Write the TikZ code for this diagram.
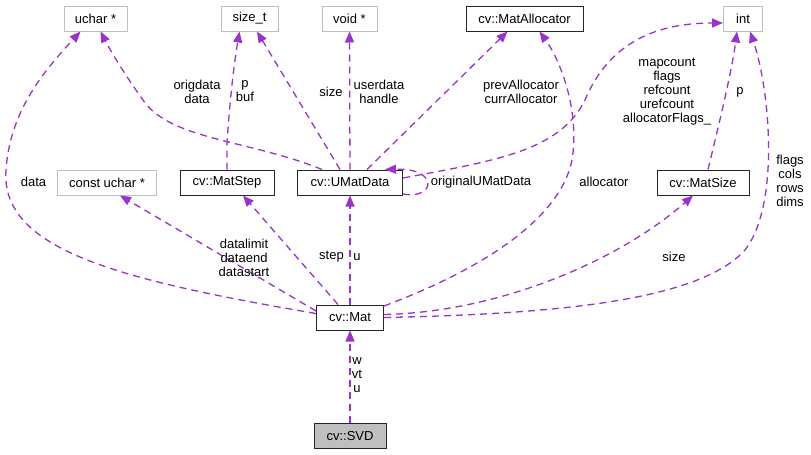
\documentclass[tikz,border=0pt]{standalone}
\usepackage{fontspec}
\setmainfont{Liberation Sans}
\usetikzlibrary{arrows.meta}
\definecolor{edgepurple}{HTML}{9A32CD}
\definecolor{boxgray}{HTML}{BFBFBF}

\begin{document}
\begin{tikzpicture}[x=1pt,y=-1pt,
  font=\fontsize{13}{14}\selectfont,
  cls/.style={draw=black!85,line width=1pt,minimum height=25pt,inner sep=0pt},
  ext/.style={draw=boxgray,line width=1pt,minimum height=25pt,inner sep=0pt},
  cur/.style={cls,fill=boxgray},
  rel/.style={edgepurple,line width=1.3pt,dash pattern=on 7pt off 5pt,-{Triangle[length=11pt,width=9pt]}},
  lbl/.style={inner sep=0pt,align=center}]

  \useasboundingbox (0,0) rectangle (811,455);

  %typer
	\node[ext,minimum width=63pt] 	(uchar) at (95.5,18.5) {uchar *};
	\node[ext,minimum width=57pt] 	(sizet) at (249.5,18.5) {size\_t};
	\node[ext,minimum width=55pt] 	(voidp) at (349.5,18.5) {void *};
	\node[cls,minimum width=117pt] 	(alloc) at (524.5,18.5) {cv::MatAllocator};
	\node[ext,minimum width=39pt] 	(inttype) at (743,18.5) {int};

  %klasser
	\node[ext,minimum width=99pt] 	(cuchar) at (107,182.5) {const uchar *};
	\node[cls,minimum width=94pt] 	(step) at (227,182.5) {cv::MatStep};
	\node[cls,minimum width=105pt] 	(umat) at (350,182.5) {cv::UMatData};
	\node[cls,minimum width=92pt] 	(msize) at (703,182.5) {cv::MatSize};
	\node[cls,minimum width=67pt] 	(mat) at (350,317.5) {cv::Mat};
	\node[cur,minimum width=72pt] 	(svd) at (350,436) {cv::SVD};

  %SVD
	\draw[rel] (svd) -- (mat);
	\node[lbl] (lsvd) at (357,375.5) {w\\vt\\u};

  %Mat
	\draw[rel] (mat) -- (umat);
	\draw[rel] ([xshift=-12pt]mat.north) -- ([xshift=16pt]step.south);
	\draw[rel] ([yshift=6.5pt]mat.west) -- ([xshift=13pt]cuchar.south);
	\draw[rel] ([yshift=4pt]mat.west) .. controls (120,280) and (0,250) .. (6,170)
		.. controls (10,110) and (45,70) .. ([xshift=-15pt]uchar.south);
	\draw[rel] ([yshift=11.5pt]mat.east) .. controls (480,270) and (560,220) .. (572,160)
		.. controls (580,110) and (560,60) .. ([xshift=15pt]alloc.south);
	\draw[rel] ([yshift=3pt]mat.east) .. controls (500,312) and (620,260) .. ([xshift=-10pt]msize.south);
	\draw[rel] (mat.east) .. controls (560,314) and (700,300) .. (745,250)
		.. controls (780,205) and (770,90) .. ([xshift=7pt]inttype.south);

	\node[lbl] (lstep) at (331.5,257) {step};
	\node[lbl] (lu) at (357,257) {u};
	\node[lbl] (lcdata) at (244,257.5) {datalimit\\dataend\\datastart};
	\node[lbl] (ldata) at (33.5,182) {data};
	\node[lbl] (lalloc) at (604,182) {allocator};
	\node[lbl] (lsize) at (674,257) {size};
	\node[lbl] (lflags) at (790,181) {flags\\cols\\rows\\dims};

  %UMatData
	\draw[rel] ([xshift=-28pt]umat.north) .. controls (250,140) and (170,140) .. (143,100)
		.. controls (125,75) and (110,50) .. ([xshift=5pt]uchar.south);
	\draw[rel] (step) -- (227,145) .. controls (229,110) and (233,70) .. ([xshift=-10pt]sizet.south);
	\draw[rel] ([xshift=-10pt]umat.north) -- ([xshift=7.5pt]sizet.south);
	\draw[rel] (umat) -- (voidp);
	\draw[rel] ([xshift=17pt]umat.north) -- ([xshift=-17pt]alloc.south);
	\draw[rel] ([yshift=4.5pt]umat.east) .. controls (500,160) and (560,150) .. (585,100)
		.. controls (610,40) and (660,23) .. ([yshift=-4.5pt]inttype.west);
	\draw[rel] ([yshift=-11.5pt]umat.east) .. controls (435,200) and (440,168) .. ([xshift=35pt]umat.north);
	\draw[rel] ([xshift=5pt]msize.north) .. controls (720,120) and (732,70) .. ([xshift=-6pt]inttype.south);

	\node[lbl] (lorig) at (197,91.5) {origdata\\data};
	\node[lbl] (lbuf) at (245,91.5) {p\\buf};
	\node[lbl] (lusize) at (331,92) {size};
	\node[lbl] (lhandle) at (379,91.5) {userdata\\handle};
	\node[lbl] (lcurr) at (521,92) {prevAllocator\\currAllocator};
	\node[lbl] (lcount) at (667,91.5) {mapcount\\flags\\refcount\\urefcount\\allocatorFlags\_};
	\node[lbl] (lp) at (740,92) {p};
	\node[lbl] (lorigu) at (481,182) {originalUMatData};

\end{tikzpicture}
\end{document}
